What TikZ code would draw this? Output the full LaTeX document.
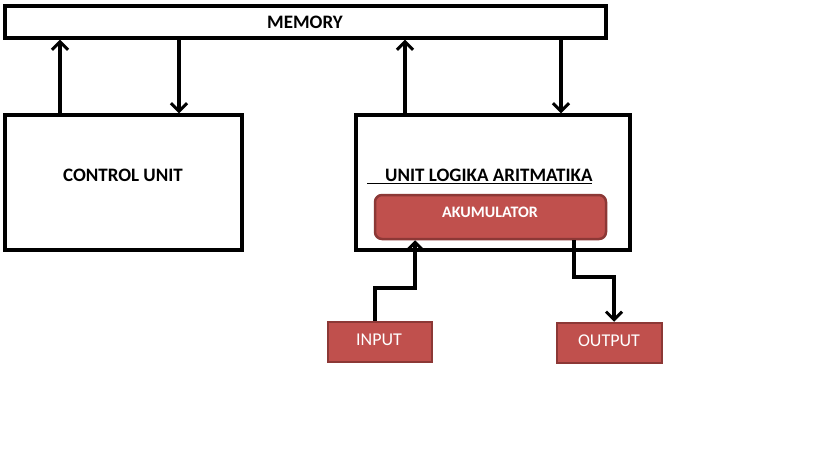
\documentclass[tikz,border=0pt]{standalone}
\usepackage{fontspec}
\setmainfont{Carlito}
\usetikzlibrary{arrows.meta}
\definecolor{accred}{HTML}{C0504D}
\definecolor{accborder}{HTML}{8C3836}
\tikzset{
  blk/.style={draw=black, line width=3.3pt, fill=white, inner sep=0pt},
  redbox/.style={draw=accborder, line width=2.5pt, fill=accred, inner sep=0pt, text=white},
  conn/.style={line width=3.6pt, -{Straight Barb[length=8pt,width=16pt,line width=3pt]}},
  bigtxt/.style={font=\bfseries\fontsize{19}{22}\selectfont},
}
\begin{document}
\begin{tikzpicture}[x=1pt,y=-1pt]
\useasboundingbox (0,0) rectangle (819,460);
% boxes
\node[blk, minimum width=601pt, minimum height=32pt] (mem) at (305.5,22) {};
\node[bigtxt] (memt) at (305,22) {MEMORY};
\node[blk, minimum width=237pt, minimum height=135pt] (cu) at (123.5,182.5) {};
\node[bigtxt] (cut) at (123,175) {CONTROL UNIT};
\node[blk, minimum width=274pt, minimum height=135pt] (alu) at (493,182.5) {};
\node[bigtxt, anchor=base west, inner sep=0pt] (alut) at (385,181) {UNIT LOGIKA ARITMATIKA};
\draw[line width=1.5pt] (367,183.5) -- (592,183.5);
\node[redbox, rounded corners=7pt, minimum width=231pt, minimum height=44pt] (acc) at (490.5,217) {};
\node[font=\bfseries\fontsize{16}{19}\selectfont, text=white] (acct) at (490,212) {AKUMULATOR};
\node[redbox, minimum width=104pt, minimum height=40pt] (in) at (380,342) {};
\node[font=\fontsize{18}{21}\selectfont, text=white] (int) at (379,340) {INPUT};
\node[redbox, minimum width=105pt, minimum height=40pt] (out) at (609.5,343) {};
\node[font=\fontsize{18}{21}\selectfont, text=white] (outt) at (609,341) {OUTPUT};
% connectors
\draw[conn] (cu.north -| 60,0) -- (mem.south -| 60,0);
\draw[conn] (mem.south -| 179,0) -- (cu.north -| 179,0);
\draw[conn] (alu.north -| 405,0) -- (mem.south -| 405,0);
\draw[conn] (mem.south -| 561,0) -- (alu.north -| 561,0);
\draw[conn] (in.north -| 375,0) -- (375,288) -- (415,288) -- (acc.south -| 415,0);
\draw[conn] (acc.south -| 574,0) -- (574,277) -- (614,277) -- (out.north -| 614,0);
\end{tikzpicture}
\end{document}
